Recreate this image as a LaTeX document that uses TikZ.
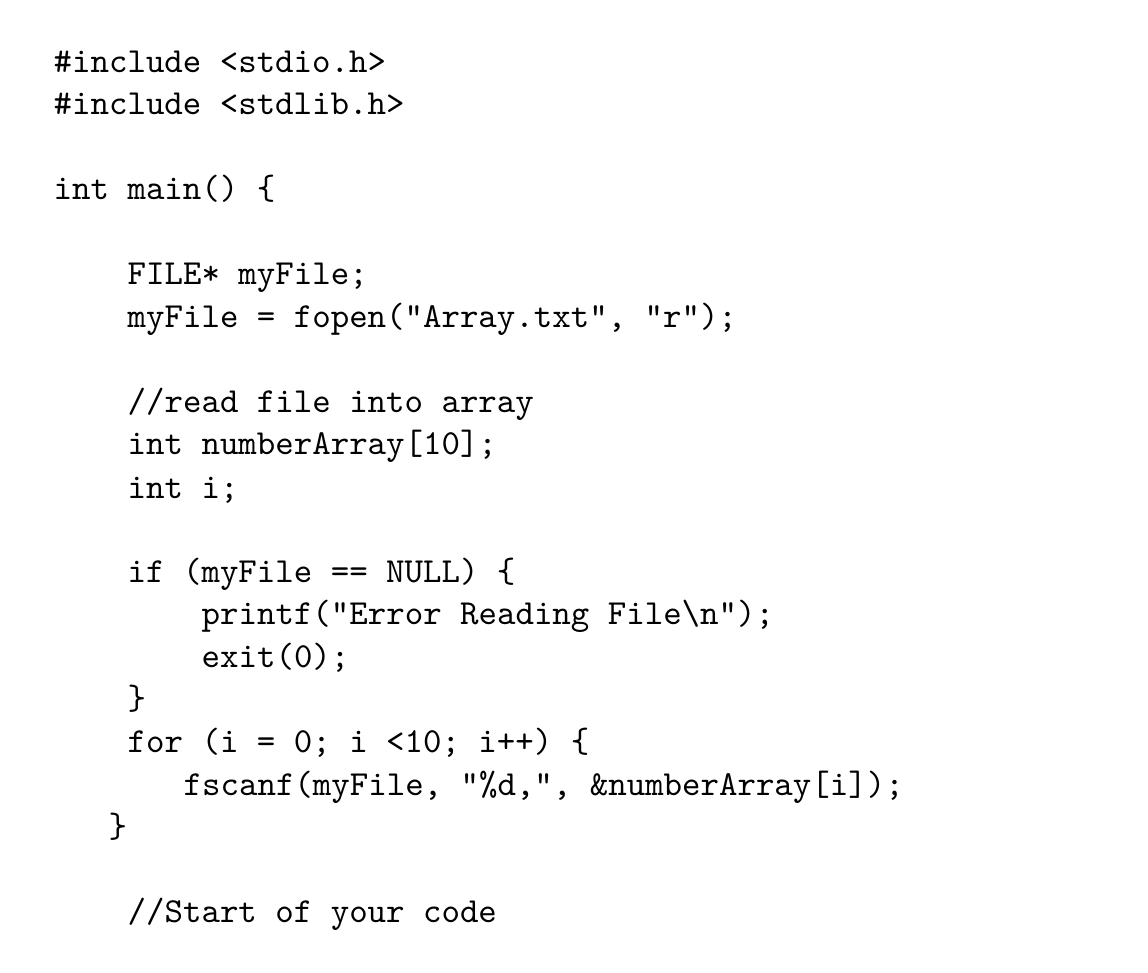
\documentclass[tikz,border=0pt]{standalone}
\begin{document}
\begin{tikzpicture}[x=0.01cm,y=-0.01cm,code/.style={anchor=base west,inner sep=0pt,font=\ttfamily}]
\useasboundingbox (0,0) rectangle (1148,972);
\node[code] (l1) at (53,72) {\#include <stdio.h>};
\node[code] (l2) at (53,114) {\#include <stdlib.h>};
\node[code] (l3) at (53,199) {int main() \{};
\node[code] (l4) at (127,284) {FILE* myFile;};
\node[code] (l5) at (127,327) {myFile = fopen("Array.txt", "r");};
\node[code] (l6) at (127,412) {//read file into array};
\node[code] (l7) at (127,454) {int numberArray[10];};
\node[code] (l8) at (127,498) {int i;};
\node[code] (l9) at (127,582) {if (myFile == NULL) \{};
\node[code] (l10) at (201,624) {printf("Error Reading File\textbackslash n");};
\node[code] (l11) at (201,667) {exit(0);};
\node[code] (l12) at (127,709) {\}};
\node[code] (l13) at (127,752) {for (i = 0; i <10; i++) \{};
\node[code] (l14) at (183,795) {fscanf(myFile, "\%d,", \&numberArray[i]);};
\node[code] (l15) at (108,837) {\}};
\node[code] (l16) at (127,922) {//Start of your code};
\end{tikzpicture}
\end{document}
